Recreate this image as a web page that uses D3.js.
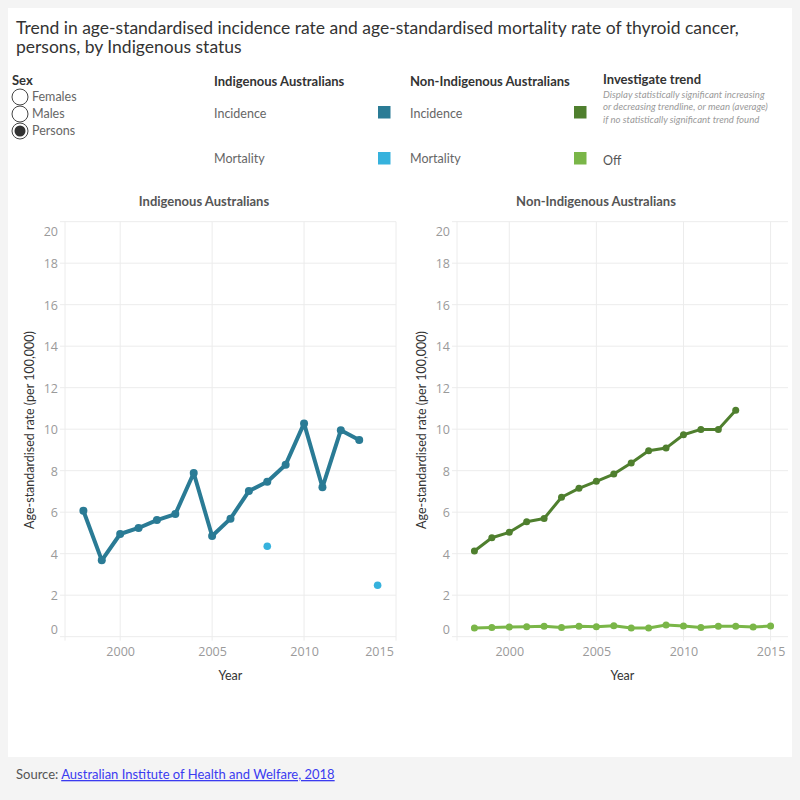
<!doctype html>
<html>
	<head>
		<meta charset="utf-8">
		<title>Thyroid cancer by Indigenous status</title>
		<style>
			body{
				margin: 0;
				background-color: #f4f4f4;
				font-family: Lato, "Open Sans", sans-serif;
			}
			.grid line{
				stroke: #ececec;
				stroke-width: 1;
			}
			.tick-label{
				font-family: "Open Sans", sans-serif;
				font-size: 12.5px;
				fill: #9a9a9a;
			}
			.legend-head{
				font-size: 13px;
				font-weight: bold;
				fill: #333;
			}
			.legend-item{
				font-size: 12.5px;
				fill: #666;
			}
		</style>
	</head>
	<body>
		<svg id="chart" width="800" height="800"></svg>
		<script src="https://d3js.org/d3.v7.min.js" charset="utf-8"></script>
		<script>
			// values
			var incidenceYears = [1998, 1999, 2000, 2001, 2002, 2003, 2004, 2005, 2006, 2007, 2008, 2009, 2010, 2011, 2012, 2013];
			var indigIncidence = [6.07, 3.68, 4.95, 5.24, 5.62, 5.91, 7.89, 4.85, 5.69, 7.02, 7.47, 8.29, 10.28, 7.2, 9.95, 9.48];
			var nonIndigIncidence = [4.13, 4.77, 5.03, 5.54, 5.70, 6.72, 7.15, 7.49, 7.84, 8.37, 8.96, 9.09, 9.73, 9.99, 9.99, 10.91];

			var indigMortalityYears = [2008, 2014];
			var indigMortality = [4.36, 2.48];

			var mortalityYears = [1998, 1999, 2000, 2001, 2002, 2003, 2004, 2005, 2006, 2007, 2008, 2009, 2010, 2011, 2012, 2013, 2014, 2015];
			var nonIndigMortality = [0.42, 0.44, 0.47, 0.48, 0.50, 0.44, 0.50, 0.48, 0.53, 0.42, 0.42, 0.56, 0.51, 0.44, 0.50, 0.50, 0.47, 0.51];

			var yTicks = [0, 2, 4, 6, 8, 10, 12, 14, 16, 18, 20];
			var xTicks = [2000, 2005, 2010, 2015];

			var titleLines = ["Trend in age-standardised incidence rate and age-standardised mortality rate of thyroid cancer,",
				"persons, by Indigenous status"];
			var trendNote = ["Display statistically significant increasing",
				"or decreasing trendline, or mean (average)",
				"if no statistically significant trend found"];

			var colors = {indigInc: "#2a7b95", indigMort: "#36b2dd", nonInc: "#4f7f2e", nonMort: "#7ab648"};

			var svg = d3.select("#chart");

			svg.append("rect").attr("x", 8).attr("y", 8).attr("width", 784).attr("height", 749).attr("fill", "white");

			// title
			svg.append("g").selectAll("text")
				.data(titleLines).enter().append("text")
				.attr("x", 16)
				.attr("y", function(d, i){ return 34 + i * 19; })
				.attr("font-size", 17.5)
				.attr("fill", "#333")
				.text(function(d){ return d; });

			// sex filter
			svg.append("text").attr("class", "legend-head").attr("x", 12).attr("y", 85).text("Sex");
			var sexes = ["Females", "Males", "Persons"];
			sexes.forEach(function(s, i){
				var cy = 97 + i * 17;
				svg.append("circle").attr("cx", 20).attr("cy", cy).attr("r", 8)
					.attr("fill", "white").attr("stroke", "#444").attr("stroke-width", 1);
				if(s === "Persons"){
					svg.append("circle").attr("cx", 20).attr("cy", cy).attr("r", 5.5).attr("fill", "#333");
				}
				svg.append("text").attr("class", "legend-item").attr("x", 32).attr("y", cy + 4).text(s);
			});

			// colour legends
			function legendBlock(x, head, incColor, mortColor){
				svg.append("text").attr("class", "legend-head").attr("x", x).attr("y", 86).text(head);
				svg.append("text").attr("class", "legend-item").attr("x", x).attr("y", 118).text("Incidence");
				svg.append("text").attr("class", "legend-item").attr("x", x).attr("y", 163).text("Mortality");
				svg.append("rect").attr("x", x + 164).attr("y", 106).attr("width", 12.5).attr("height", 12.5).attr("fill", incColor);
				svg.append("rect").attr("x", x + 164).attr("y", 152).attr("width", 12.5).attr("height", 12.5).attr("fill", mortColor);
			}
			legendBlock(214, "Indigenous Australians", colors.indigInc, colors.indigMort);
			legendBlock(410, "Non-Indigenous Australians", colors.nonInc, colors.nonMort);

			svg.append("text").attr("class", "legend-head").attr("x", 603).attr("y", 84).attr("font-size", 13.5).text("Investigate trend");
			svg.append("g").selectAll("text")
				.data(trendNote).enter().append("text")
				.attr("x", 603)
				.attr("y", function(d, i){ return 97.5 + i * 12.6; })
				.attr("font-size", 9.6)
				.attr("font-style", "italic")
				.attr("fill", "#9a9a9a")
				.text(function(d){ return d; });
			svg.append("text").attr("x", 603).attr("y", 165).attr("font-size", 12.5).attr("fill", "#555").text("Off");

			var y = d3.scaleLinear().domain([0, 20]).range([636.7, 221.7]);

			function drawPanel(opt){
				var x = d3.scaleLinear().domain(opt.domain).range([opt.left, opt.right]);
				var g = svg.append("g");

				// grid
				var grid = g.append("g").attr("class", "grid");
				grid.selectAll(".h").data(yTicks).enter().append("line")
					.attr("x1", opt.left - 5).attr("x2", opt.right)
					.attr("y1", function(d){ return y(d); }).attr("y2", function(d){ return y(d); });
				grid.selectAll(".v").data([opt.domain[0]].concat(xTicks)).enter().append("line")
					.attr("x1", function(d){ return x(d); }).attr("x2", function(d){ return x(d); })
					.attr("y1", y(20)).attr("y2", y(0) + 4);

				// y axis labels, edge labels pulled inside like the original
				var yAxis = g.append("g")
					.attr("transform", "translate(" + (opt.left - 7) + ",0)")
					.call(d3.axisLeft(y).tickValues(yTicks).tickSize(0).tickPadding(0));
				yAxis.select(".domain").remove();
				yAxis.selectAll("text").attr("class", "tick-label").attr("dy", "0.35em")
					.attr("y", function(d){ return d === 20 ? 9 : (d === 0 ? -8 : 0); });

				// x axis labels
				var xAxis = g.append("g")
					.attr("transform", "translate(0," + y(0) + ")")
					.call(d3.axisBottom(x).tickValues(xTicks).tickFormat(d3.format("d")).tickSize(0).tickPadding(0));
				xAxis.select(".domain").remove();
				xAxis.selectAll("text").attr("class", "tick-label").attr("dy", "0.35em").attr("y", 15)
					.attr("x", function(d){ return x(d) + 16 > opt.right ? opt.right - x(d) - 17 : 0; });

				// titles
				g.append("text").attr("x", opt.titleX).attr("y", 206).attr("text-anchor", "middle")
					.attr("font-size", 13).attr("font-weight", "bold").attr("fill", "#555").text(opt.title);
				g.append("text").attr("x", (opt.left + opt.right) / 2).attr("y", 680).attr("text-anchor", "middle")
					.attr("font-size", 12.5).attr("fill", "#333").text("Year");
				g.append("text")
					.attr("transform", "translate(" + opt.yTitleX + ",430) rotate(-90)")
					.attr("text-anchor", "middle").attr("font-size", 12.5).attr("fill", "#333")
					.text("Age-standardised rate (per 100,000)");

				var line = d3.line()
					.x(function(d){ return x(d[0]); })
					.y(function(d){ return y(d[1]); });

				opt.series.forEach(function(s){
					var pts = d3.zip(s.years, s.values);
					if(pts.length > 2){
						g.append("path").datum(pts)
							.attr("d", line)
							.attr("fill", "none")
							.attr("stroke", s.color)
							.attr("stroke-width", s.width)
							.attr("stroke-linejoin", "round");
					}
					g.append("g").selectAll("circle").data(pts).enter().append("circle")
						.attr("cx", function(d){ return x(d[0]); })
						.attr("cy", function(d){ return y(d[1]); })
						.attr("r", s.r)
						.attr("fill", s.color);
				});
			}

			drawPanel({
				title: "Indigenous Australians", titleX: 204, yTitleX: 34,
				domain: [1997, 2015], left: 65, right: 396,
				series: [
					{years: incidenceYears, values: indigIncidence, color: colors.indigInc, width: 4, r: 4},
					{years: indigMortalityYears, values: indigMortality, color: colors.indigMort, width: 4, r: 3.8}
				]
			});
			drawPanel({
				title: "Non-Indigenous Australians", titleX: 596, yTitleX: 426,
				domain: [1997, 2016], left: 457, right: 788,
				series: [
					{years: incidenceYears, values: nonIndigIncidence, color: colors.nonInc, width: 3, r: 3.5},
					{years: mortalityYears, values: nonIndigMortality, color: colors.nonMort, width: 3, r: 3.5}
				]
			});

			// source
			var src = svg.append("text").attr("x", 16).attr("y", 779).attr("font-size", 13).attr("fill", "#555");
			src.append("tspan").text("Source: ");
			src.append("tspan").attr("fill", "#3b3bf0").attr("text-decoration", "underline")
				.text("Australian Institute of Health and Welfare, 2018");
		</script>
	</body>
</html>
